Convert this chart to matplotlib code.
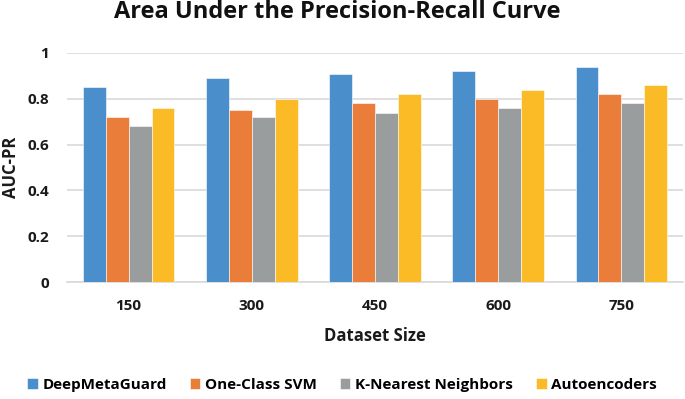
import matplotlib
matplotlib.use("Agg")
import matplotlib.pyplot as plt
import numpy as np

categories = ["150", "300", "450", "600", "750"]
series_names = ["DeepMetaGuard", "One-Class SVM", "K-Nearest Neighbors", "Autoencoders"]
deepmetaguard = [0.85, 0.89, 0.91, 0.92, 0.94]
ocsvm = [0.72, 0.75, 0.78, 0.80, 0.82]
knn = [0.68, 0.72, 0.74, 0.76, 0.78]
autoenc = [0.76, 0.80, 0.82, 0.84, 0.86]
yticks = [0, 0.2, 0.4, 0.6, 0.8, 1]
ytick_labels = ["0", "0.2", "0.4", "0.6", "0.8", "1"]

colors = ["#4A8FCB", "#EA7D3A", "#9A9D9E", "#FBBB27"]
plt.rcParams['font.family'] = ['Open Sans', 'DejaVu Sans']

fig = plt.figure(figsize=(6.85, 3.99), dpi=100)
ax = fig.add_axes([67/685, (399-282)/399, (683-67)/685, (282-53)/399])

x = np.arange(len(categories))
w = 0.186
data = [deepmetaguard, ocsvm, knn, autoenc]
for i, (vals, c, name) in enumerate(zip(data, colors, series_names)):
    ax.bar(x + (i - 1.5) * w, vals, w, color=c, label=name, edgecolor='white', linewidth=0.4, zorder=3)

ax.set_xlim(-0.5, len(categories) - 0.5)
ax.set_ylim(0, 1)
ax.set_yticks(yticks)
ax.set_yticklabels(ytick_labels)
ax.set_xticks(x)
ax.set_xticklabels(categories)
ax.yaxis.grid(True, color="#D9D9D9", linewidth=1.2, zorder=0)
for s in ["top", "right", "left"]:
    ax.spines[s].set_visible(False)
ax.spines["bottom"].set_color("#D9D9D9")
ax.spines["bottom"].set_linewidth(1.2)
ax.tick_params(axis='both', length=0, labelsize=11)
ax.tick_params(axis='y', pad=13)
ax.tick_params(axis='x', pad=12)
for lab in ax.get_xticklabels() + ax.get_yticklabels():
    lab.set_fontweight('bold')
    lab.set_color('#1a1a1a')

ax.set_xlabel("Dataset Size", fontsize=12, fontweight='bold', labelpad=10, color='#1a1a1a')
ax.set_ylabel("AUC-PR", fontsize=12, fontweight='bold', labelpad=5, color='#1a1a1a')
fig.text(337/685, 1 - 12/399, "Area Under the Precision-Recall Curve", ha='center', va='center',
         fontsize=17, fontweight='bold', color='#111111')

fig.legend(loc='center', bbox_to_anchor=(342/685, 1 - 385/399), ncol=4, frameon=False,
           prop={'weight': 'bold', 'size': 11}, handlelength=0.7, handleheight=0.7,
           handletextpad=0.3, columnspacing=1.5)

fig.savefig("out.png", dpi=100)
